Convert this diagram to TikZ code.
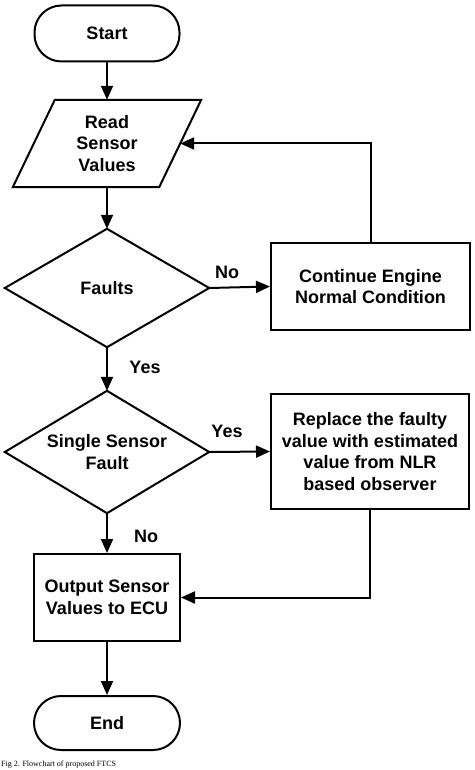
\documentclass[tikz,border=0pt]{standalone}
\usepackage{fontspec}
\setmainfont{Liberation Sans}
\newfontfamily\capfont{Liberation Serif}
\usetikzlibrary{arrows.meta,calc}
\begin{document}
\begin{tikzpicture}[x=1pt,y=-1pt,
  every node/.style={font=\fontsize{18}{21.5}\selectfont\bfseries, align=center, inner sep=0pt},
  shapeline/.style={draw, line width=2pt},
  term/.style={shapeline, rounded corners=27pt, minimum width=145pt, minimum height=56pt},
  proc/.style={shapeline, minimum width=#1, minimum height=87pt},
  flow/.style={line width=2pt, -{Triangle[length=14pt,width=12pt]}},
  lbl/.style={font=\fontsize{18}{21.5}\selectfont\bfseries}
]
\useasboundingbox (0,0) rectangle (474,770);
\fill[white] (0,0) rectangle (474,770);

% nodes
\node[term] (start) at (107,33.5) {Start};
\node[minimum width=146pt, minimum height=87pt] (read) at (107,143.5) {Read\\Sensor\\Values};
\draw[shapeline] ([xshift=21pt]read.north west) -- ([xshift=21pt]read.north east)
  -- ([xshift=-21pt]read.south east) -- ([xshift=-21pt]read.south west) -- cycle;

\node[minimum width=204pt, minimum height=118pt] (faults) at (107,288) {Faults};
\draw[shapeline] (faults.north) -- (faults.east) -- (faults.south) -- (faults.west) -- cycle;

\node[proc=199pt] (cont) at (370.5,286.5) {Continue Engine\\Normal Condition};

\node[minimum width=204pt, minimum height=122pt] (single) at (107,452) {Single Sensor\\Fault};
\draw[shapeline] (single.north) -- (single.east) -- (single.south) -- (single.west) -- cycle;

\node[shapeline, minimum width=198pt, minimum height=115pt] (repl) at (370,451.5)
  {Replace the faulty\\value with estimated\\value from NLR\\based observer};

\node[proc=146pt] (out) at (107,597.5) {Output Sensor\\Values to ECU};

\node[term, minimum width=146pt, minimum height=54pt] (end) at (107,723) {End};

% connectors
\draw[flow] (start) -- (read.north);
\draw[flow] (read.south) -- (faults.north);
\draw[flow] (faults.east) -- (cont.west);
\draw[flow] (cont.north) -- (cont.north |- read.east) -- (read.east);
\draw[flow] (faults.south) -- (single.north);
\draw[flow] (single.east) -- (repl.west);
\draw[flow] (repl.south) -- (repl.south |- out.east) -- (out.east);
\draw[flow] (single.south) -- (out.north);
\draw[flow] (out.south) -- (end.north);

% labels
\node[lbl] (lno1) at (227,272) {No};
\node[lbl] (lyes1) at (145,367) {Yes};
\node[lbl] (lyes2) at (227,431) {Yes};
\node[lbl] (lno2) at (146,536) {No};

% caption
\node[anchor=base west, font=\capfont\fontsize{8}{9}\selectfont] (cap) at (1,766.5) {Fig 2. Flowchart of proposed FTCS};
\end{tikzpicture}
\end{document}
